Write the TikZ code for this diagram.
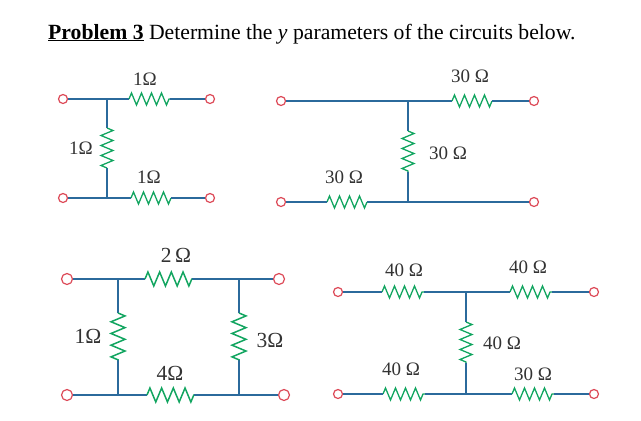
\documentclass[tikz,border=0pt]{standalone}
\usepackage{fontspec}
\setmainfont{Liberation Serif}
\usetikzlibrary{decorations.pathmorphing}

\tikzset{
  wire/.style={draw=wireblue,line width=1.4pt},
  res/.style={draw=resgreen,line width=1.3pt,decorate,decoration={zigzag,amplitude=6pt,segment length=10pt}},
  bigres/.style={res,line width=1.5pt,decoration={zigzag,amplitude=7pt,segment length=11.7pt}},
  term/.style={circle,draw=termred,fill=white,line width=1.2pt,inner sep=0pt,minimum size=9pt},
  bigterm/.style={term,minimum size=11pt},
  val/.style={text=valgray,font=\fontsize{19}{22}\selectfont,inner sep=0pt},
  bigval/.style={val,font=\fontsize{21.5}{24}\selectfont}
}
\definecolor{wireblue}{HTML}{2B6A9C}
\definecolor{resgreen}{HTML}{12A560}
\definecolor{termred}{HTML}{DD4A58}
\definecolor{valgray}{HTML}{333333}

\begin{document}
\begin{tikzpicture}[x=1pt,y=-1pt]
      \useasboundingbox (0,0) rectangle (641,421);
      % title
      \node[inner sep=0pt,anchor=base west,font=\fontsize{21.7}{26}\selectfont] (title) at (48,39) {\underline{\textbf{Problem 3}} Determine the \textit{y} parameters of the circuits below.};

      % top left circuit
      \coordinate (ja) at (107,99);
      \coordinate (jb) at (107,198);
      \coordinate (ra1) at (129,99);
      \coordinate (ra2) at (170,99);
      \coordinate (rb1) at (107,128);
      \coordinate (rb2) at (107,168);
      \coordinate (rc1) at (131,198);
      \coordinate (rc2) at (171,198);
      \draw[wire] (ja) -- (ra1);
      \draw[wire] (ja) -- (rb1);
      \draw[wire] (rb2) -- (jb);
      \draw[wire] (jb) -- (rc1);
      \draw[res] (ra1) -- (ra2);
      \draw[res] (rb1) -- (rb2);
      \draw[res] (rc1) -- (rc2);
      \node[term] (ta1) at (63,99) {};
      \node[term] (ta2) at (210,99) {};
      \node[term] (ta3) at (63,198) {};
      \node[term] (ta4) at (210,198) {};
      \draw[wire] (ta1) -- (ja);
      \draw[wire] (ra2) -- (ta2);
      \draw[wire] (ta3) -- (jb);
      \draw[wire] (rc2) -- (ta4);
      \node[val] (la) at (145,79) {1Ω};
      \node[val] (lb) at (81,148) {1Ω};
      \node[val] (lc) at (149,177) {1Ω};

      % top right circuit
      \coordinate (jc) at (408,101);
      \coordinate (jd) at (408,202);
      \coordinate (rd1) at (452,101);
      \coordinate (rd2) at (492,101);
      \coordinate (re1) at (408,131);
      \coordinate (re2) at (408,172);
      \coordinate (rf1) at (327,202);
      \coordinate (rf2) at (367,202);
      \draw[wire] (jc) -- (rd1);
      \draw[wire] (jc) -- (re1);
      \draw[wire] (re2) -- (jd);
      \draw[wire] (rf2) -- (jd);
      \draw[res] (rd1) -- (rd2);
      \draw[res] (re1) -- (re2);
      \draw[res] (rf1) -- (rf2);
      \node[term] (tb1) at (281,101) {};
      \node[term] (tb2) at (534,101) {};
      \node[term] (tb3) at (281,202) {};
      \node[term] (tb4) at (534,202) {};
      \draw[wire] (tb1) -- (jc);
      \draw[wire] (rd2) -- (tb2);
      \draw[wire] (tb3) -- (rf1);
      \draw[wire] (jd) -- (tb4);
      \node[val] (ld) at (470,76) {30 Ω};
      \node[val] (le) at (448,153) {30 Ω};
      \node[val] (lf) at (344,177) {30 Ω};

      % bottom left circuit
      \coordinate (je) at (118,279);
      \coordinate (jf) at (239,279);
      \coordinate (jg) at (118,395);
      \coordinate (jh) at (239,395);
      \coordinate (rg1) at (145,279);
      \coordinate (rg2) at (192,279);
      \coordinate (rh1) at (118,313);
      \coordinate (rh2) at (118,360);
      \coordinate (ri1) at (239,313);
      \coordinate (ri2) at (239,360);
      \coordinate (rj1) at (147,395);
      \coordinate (rj2) at (194,395);
      \draw[wire] (je) -- (rg1);
      \draw[wire] (rg2) -- (jf);
      \draw[wire] (je) -- (rh1);
      \draw[wire] (rh2) -- (jg);
      \draw[wire] (jf) -- (ri1);
      \draw[wire] (ri2) -- (jh);
      \draw[wire] (jg) -- (rj1);
      \draw[wire] (rj2) -- (jh);
      \draw[bigres] (rg1) -- (rg2);
      \draw[bigres] (rh1) -- (rh2);
      \draw[bigres] (ri1) -- (ri2);
      \draw[bigres] (rj1) -- (rj2);
      \node[bigterm] (tc1) at (67,279) {};
      \node[bigterm] (tc2) at (279,279) {};
      \node[bigterm] (tc3) at (67,395) {};
      \node[bigterm] (tc4) at (284,395) {};
      \draw[wire] (tc1) -- (je);
      \draw[wire] (jf) -- (tc2);
      \draw[wire] (tc3) -- (jg);
      \draw[wire] (jh) -- (tc4);
      \node[bigval] (lg) at (176,255) {2\,Ω};
      \node[bigval] (lh) at (88,336) {1Ω};
      \node[bigval] (li) at (270,340) {3Ω};
      \node[bigval] (lj) at (170,373) {4Ω};

      % bottom right circuit
      \coordinate (ji) at (466,292);
      \coordinate (jj) at (466,394);
      \coordinate (rk1) at (382,292);
      \coordinate (rk2) at (424,292);
      \coordinate (rl1) at (510,292);
      \coordinate (rl2) at (552,292);
      \coordinate (rm1) at (466,322);
      \coordinate (rm2) at (466,363);
      \coordinate (rn1) at (383,394);
      \coordinate (rn2) at (425,394);
      \coordinate (ro1) at (512,394);
      \coordinate (ro2) at (554,394);
      \draw[wire] (rk2) -- (ji);
      \draw[wire] (ji) -- (rl1);
      \draw[wire] (ji) -- (rm1);
      \draw[wire] (rm2) -- (jj);
      \draw[wire] (rn2) -- (jj);
      \draw[wire] (jj) -- (ro1);
      \draw[res] (rk1) -- (rk2);
      \draw[res] (rl1) -- (rl2);
      \draw[res] (rm1) -- (rm2);
      \draw[res] (rn1) -- (rn2);
      \draw[res] (ro1) -- (ro2);
      \node[term] (td1) at (338,292) {};
      \node[term] (td2) at (594,292) {};
      \node[term] (td3) at (338,394) {};
      \node[term] (td4) at (594,394) {};
      \draw[wire] (td1) -- (rk1);
      \draw[wire] (rl2) -- (td2);
      \draw[wire] (td3) -- (rn1);
      \draw[wire] (ro2) -- (td4);
      \node[val] (lk) at (404,270) {40 Ω};
      \node[val] (ll) at (528,267) {40 Ω};
      \node[val] (lm) at (502,343) {40 Ω};
      \node[val] (ln) at (401,369) {40 Ω};
      \node[val] (lo) at (533,374) {30 Ω};
\end{tikzpicture}
\end{document}
